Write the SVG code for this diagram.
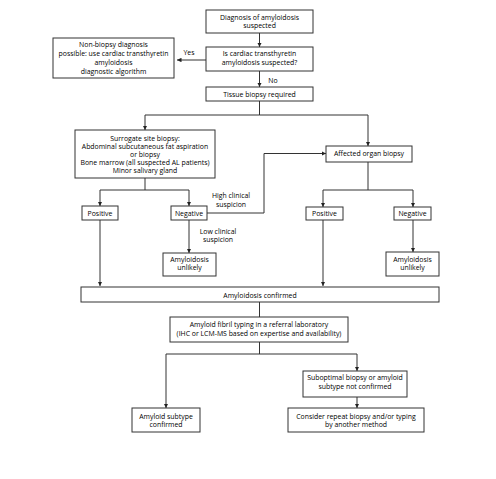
<svg xmlns="http://www.w3.org/2000/svg" width="496" height="479" viewBox="0 0 496 479">
<defs>
<marker id="ah" viewBox="0 0 6 6" refX="6" refY="3" markerWidth="4.5" markerHeight="4.5" markerUnits="userSpaceOnUse" orient="auto">
<path d="M0,0 L6,3 L0,6 Z" fill="#222"/>
</marker>
<style>
rect{fill:#fff;stroke:#333;stroke-width:1}
text{font-family:"Open Sans","Noto Sans",sans-serif;font-size:6.9px;fill:#000;text-anchor:middle}
.c path{fill:none;stroke:#333;stroke-width:1}
.a{marker-end:url(#ah)}
</style>
</defs>
<rect x="0" y="0" width="496" height="479" style="fill:#fff;stroke:none"/>
<g class="c" id="connectors">
<path class="a" d="M259.5,33 V47"/>
<path class="a" d="M206,60 H177"/>
<path class="a" d="M259.5,71 V87"/>
<path d="M259.5,101 V115 H145 M259.5,115 H368"/>
<path class="a" d="M145,115 V130"/>
<path class="a" d="M368,115 V146"/>
<path d="M145,178 V190 M100,190 H189"/>
<path class="a" d="M100,190 V206"/>
<path class="a" d="M189,190 V206"/>
<path class="a" d="M207,213 H264 V153.5 H326"/>
<path class="a" d="M189,220 V253"/>
<path d="M368,162 V190 M323,190 H413"/>
<path class="a" d="M323,190 V207"/>
<path class="a" d="M413,190 V207"/>
<path class="a" d="M413,220 V252"/>
<path class="a" d="M100,220 V286"/>
<path class="a" d="M323,220 V286"/>
<path d="M259.5,302 V317"/>
<path d="M259.5,342 V354 M166,354 H357"/>
<path class="a" d="M166,354 V408"/>
<path class="a" d="M357,354 V371"/>
<path class="a" d="M357,397 V408"/>
</g>
<g id="labels">
<text x="189" y="54.5">Yes</text>
<text x="273" y="82.5">No</text>
<text x="231" y="198">High clinical</text>
<text x="231" y="206.5">suspicion</text>
<text x="218" y="234">Low clinical</text>
<text x="218" y="242">suspicion</text>
</g>
<g id="n-diagnosis"><rect x="206" y="10" width="107" height="23"/><text x="259.5" y="19.5">Diagnosis of amyloidosis</text><text x="259.5" y="27.5">suspected</text></g>
<g id="n-cardiac"><rect x="206" y="47" width="107" height="24"/><text x="259.5" y="56">Is cardiac transthyretin</text><text x="259.5" y="64.5">amyloidosis suspected?</text></g>
<g id="n-nonbiopsy"><rect x="53" y="38" width="121" height="40"/><text x="113.5" y="46.5">Non-biopsy diagnosis</text><text x="113.5" y="55.5">possible: use cardiac transthyretin</text><text x="113.5" y="64.5">amyloidosis</text><text x="113.5" y="73.5">diagnostic algorithm</text></g>
<g id="n-tissue"><rect x="206" y="87" width="107" height="14"/><text x="259.5" y="96.5">Tissue biopsy required</text></g>
<g id="n-surrogate"><rect x="75" y="130" width="140" height="48"/><text x="145" y="140.5">Surrogate site biopsy:</text><text x="145" y="148.5">Abdominal subcutaneous fat aspiration</text><text x="145" y="156.5">or biopsy</text><text x="145" y="164.5">Bone marrow (all suspected AL patients)</text><text x="145" y="172.5">Minor salivary gland</text></g>
<g id="n-affected"><rect x="326" y="146" width="86" height="16"/><text x="369" y="156">Affected organ biopsy</text></g>
<g id="n-pos1"><rect x="82" y="206" width="36" height="14"/><text x="100" y="215.5">Positive</text></g>
<g id="n-neg1"><rect x="171" y="206" width="36" height="14"/><text x="189" y="215.5">Negative</text></g>
<g id="n-pos2"><rect x="306" y="207" width="37" height="13"/><text x="324.5" y="215.8">Positive</text></g>
<g id="n-neg2"><rect x="394" y="207" width="37" height="13"/><text x="412.5" y="215.8">Negative</text></g>
<g id="n-unlikely1"><rect x="163" y="253" width="53" height="23"/><text x="189.5" y="262">Amyloidosis</text><text x="189.5" y="270">unlikely</text></g>
<g id="n-unlikely2"><rect x="386" y="252" width="53" height="24"/><text x="412.5" y="261.5">Amyloidosis</text><text x="412.5" y="269.5">unlikely</text></g>
<g id="n-confirmed"><rect x="81" y="287" width="358" height="15"/><text x="260" y="297.5">Amyloidosis confirmed</text></g>
<g id="n-typing"><rect x="170" y="317" width="178" height="25"/><text x="259" y="326.5">Amyloid fibril typing in a referral laboratory</text><text x="259" y="336">(IHC or LCM-MS based on expertise and availability)</text></g>
<g id="n-suboptimal"><rect x="303" y="371" width="104" height="26"/><text x="355" y="380">Suboptimal biopsy or amyloid</text><text x="355" y="388.5">subtype not confirmed</text></g>
<g id="n-subtype"><rect x="132" y="408" width="68" height="24"/><text x="166" y="418.5">Amyloid subtype</text><text x="166" y="426.5">confirmed</text></g>
<g id="n-repeat"><rect x="288" y="408" width="136" height="24"/><text x="356" y="418.5">Consider repeat biopsy and/or typing</text><text x="356" y="426.5">by another method</text></g>
</svg>
